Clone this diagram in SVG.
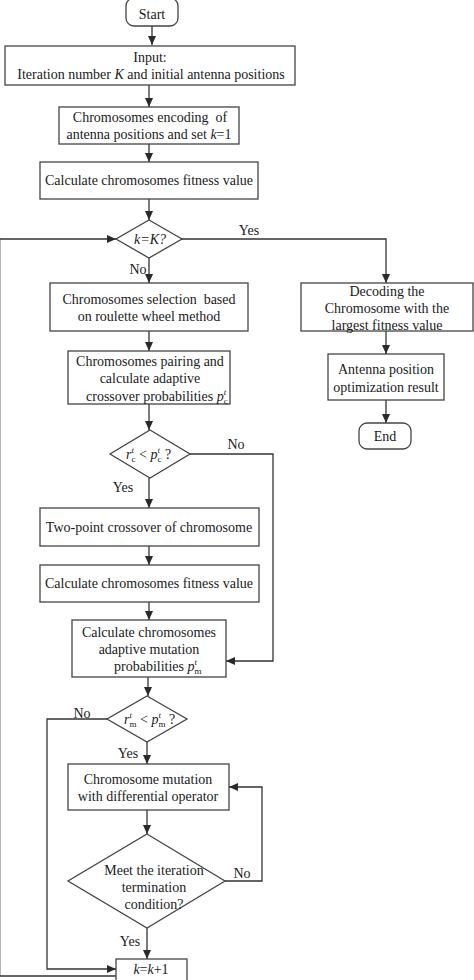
<svg xmlns="http://www.w3.org/2000/svg" width="474" height="980" viewBox="0 0 474 980">
<defs>
<marker id="ah" markerUnits="userSpaceOnUse" markerWidth="10" markerHeight="8" refX="9" refY="4" orient="auto">
<path d="M0,0 L9,4 L0,8 Z" fill="#2a2a2a"/>
</marker>
<style>
rect,polygon{fill:#fff;stroke:#444;stroke-width:1.3}
.c path{fill:none;stroke:#333;stroke-width:1.3}
text{font-family:"Liberation Serif","Times New Roman",serif;font-size:14px;fill:#1a1a1a;text-anchor:middle;white-space:pre}
.i{font-style:italic}
.s{font-size:9px}
.l{text-anchor:start}
</style>
</defs>
<rect width="474" height="980" style="fill:#fff;stroke:none"/>
<g class="c" id="connectors">
<path d="M152,26 V45" marker-end="url(#ah)"/>
<path d="M149,85 V107" marker-end="url(#ah)"/>
<path d="M149,144 V162" marker-end="url(#ah)"/>
<path d="M149,199 V220" marker-end="url(#ah)"/>
<path d="M182,239 H386 V283" marker-end="url(#ah)"/>
<path d="M149,258 V283" marker-end="url(#ah)"/>
<path d="M149,331 V351" marker-end="url(#ah)"/>
<path d="M386,331 V354" marker-end="url(#ah)"/>
<path d="M386,400 V423" marker-end="url(#ah)"/>
<path d="M149,404 V430" marker-end="url(#ah)"/>
<path d="M190,454 H273 V661 H226" marker-end="url(#ah)"/>
<path d="M149,478 V508" marker-end="url(#ah)"/>
<path d="M149,546 V565" marker-end="url(#ah)"/>
<path d="M149,602 V620" marker-end="url(#ah)"/>
<path d="M148,677 V696" marker-end="url(#ah)"/>
<path d="M107,719 H47 V969 H116" marker-end="url(#ah)"/>
<path d="M147,742 V764" marker-end="url(#ah)"/>
<path d="M147,810 V834" marker-end="url(#ah)"/>
<path d="M225,881 H262 V787 H229" marker-end="url(#ah)"/>
<path d="M147,928 V959" marker-end="url(#ah)"/>
<path d="M116,976 H-0.3 V239 H116" marker-end="url(#ah)"/>
<text x="249" y="235">Yes</text>
<text x="138" y="274">No</text>
<text x="236" y="449">No</text>
<text x="123" y="492">Yes</text>
<text x="82" y="718">No</text>
<text x="128" y="758">Yes</text>
<text x="242" y="878">No</text>
<text x="130" y="946">Yes</text>
</g>
<g id="start">
<rect x="126" y="-2" width="52" height="28" rx="8"/>
<text x="152" y="19">Start</text>
</g>
<g id="input">
<rect x="5" y="46" width="290" height="39"/>
<text x="150" y="62">Input:</text>
<text x="151" y="79">Iteration number <tspan class="i">K</tspan> and initial antenna positions</text>
</g>
<g id="encode">
<rect x="59" y="107" width="180" height="37"/>
<text x="150" y="122">Chromosomes encoding  of</text>
<text x="149" y="139">antenna positions and set <tspan class="i">k</tspan>=1</text>
</g>
<g id="fitness1">
<rect x="40" y="162" width="218" height="37"/>
<text x="149" y="185">Calculate chromosomes fitness value</text>
</g>
<g id="check-k">
<polygon points="149,220 182,239 149,258 116,239"/>
<text x="150" y="244" class="i">k=K?</text>
</g>
<g id="selection">
<rect x="50" y="283" width="198" height="48"/>
<text x="149" y="304">Chromosomes selection  based</text>
<text x="149" y="321">on roulette wheel method</text>
</g>
<g id="pairing">
<rect x="68" y="351" width="162" height="53"/>
<text x="150" y="366">Chromosomes pairing and</text>
<text x="150" y="383">calculate adaptive</text>
<text x="86" y="401" class="l">crossover probabilities <tspan class="i">p</tspan><tspan class="s i" dy="-6">t</tspan><tspan class="s" dx="-2.5" dy="9">c</tspan></text>
</g>
<g id="check-c">
<polygon points="150,430 190,454 150,478 110,454"/>
<text x="126" y="459" class="l"><tspan class="i">r</tspan><tspan class="s i" dy="-6">t</tspan><tspan class="s" dx="-2.5" dy="9">c</tspan><tspan dy="-3"> &lt; </tspan><tspan class="i">p</tspan><tspan class="s i" dy="-6">t</tspan><tspan class="s" dx="-2.5" dy="9">c</tspan><tspan dy="-3"> ?</tspan></text>
</g>
<g id="crossover">
<rect x="40" y="508" width="219" height="38"/>
<text x="149" y="532">Two-point crossover of chromosome</text>
</g>
<g id="fitness2">
<rect x="40" y="565" width="219" height="37"/>
<text x="149" y="588">Calculate chromosomes fitness value</text>
</g>
<g id="mutation-prob">
<rect x="72" y="620" width="154" height="57"/>
<text x="149" y="637">Calculate chromosomes</text>
<text x="149" y="654">adaptive mutation</text>
<text x="114" y="671" class="l">probabilities <tspan class="i">p</tspan><tspan class="s i" dy="-6">t</tspan><tspan class="s" dx="-2.5" dy="9">m</tspan></text>
</g>
<g id="check-m">
<polygon points="147,696 187,719 147,742 107,719"/>
<text x="124" y="724" class="l"><tspan class="i">r</tspan><tspan class="s i" dy="-6">t</tspan><tspan class="s" dx="-2.5" dy="9">m</tspan><tspan dy="-3"> &lt; </tspan><tspan class="i">p</tspan><tspan class="s i" dy="-6">t</tspan><tspan class="s" dx="-2.5" dy="9">m</tspan><tspan dy="-3"> ?</tspan></text>
</g>
<g id="mutation">
<rect x="68" y="764" width="161" height="46"/>
<text x="148" y="784">Chromosome mutation</text>
<text x="148" y="801">with differential operator</text>
</g>
<g id="termination">
<polygon points="147,834 225,881 147,928 68,881"/>
<text x="154" y="875">Meet the iteration</text>
<text x="154" y="892">termination</text>
<text x="154" y="909">condition?</text>
</g>
<g id="increment">
<rect x="116" y="959" width="71" height="30"/>
<text x="151" y="974"><tspan class="i">k</tspan>=<tspan class="i">k</tspan>+1</text>
</g>
<g id="decoding">
<rect x="301" y="283" width="172" height="48"/>
<text x="387" y="296">Decoding the</text>
<text x="387" y="313">Chromosome with the</text>
<text x="387" y="330">largest fitness value</text>
</g>
<g id="result">
<rect x="328" y="354" width="116" height="46"/>
<text x="386" y="374">Antenna position</text>
<text x="386" y="392">optimization result</text>
</g>
<g id="end">
<rect x="359" y="423" width="52" height="26" rx="8"/>
<text x="385" y="441">End</text>
</g>
</svg>
